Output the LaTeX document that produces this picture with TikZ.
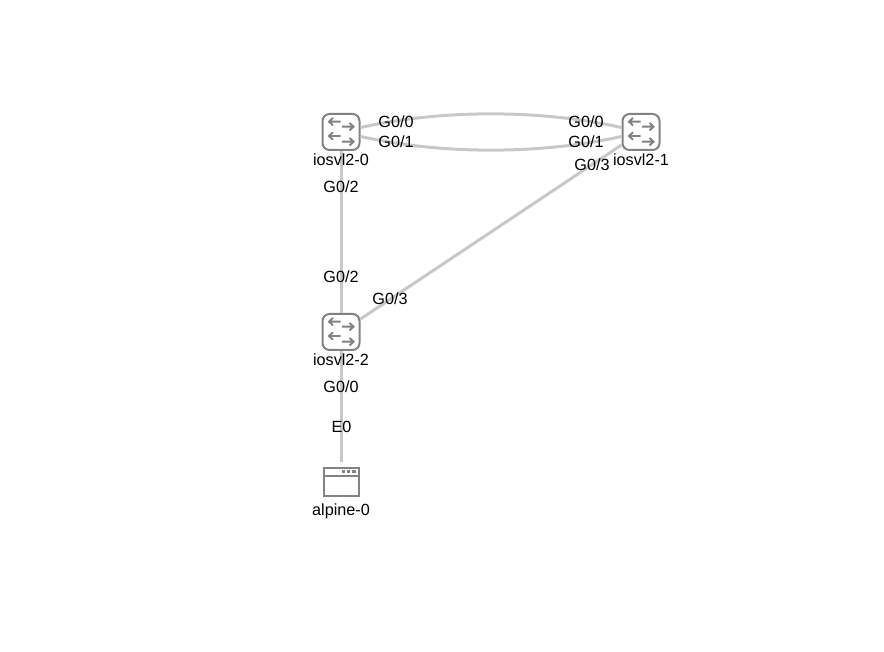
\documentclass[tikz,border=0pt]{standalone}
\usepackage{fontspec}
\setmainfont{Liberation Sans}
\definecolor{linkgray}{HTML}{C8C8C8}
\definecolor{icongray}{HTML}{828282}
\tikzset{
  x=1pt,y=-1pt,
  link/.style={draw=linkgray,line width=3pt},
  swbox/.style={draw=icongray,line width=2pt,fill=white,rounded corners=7pt,minimum width=37pt,minimum height=36pt,inner sep=0pt,outer sep=1pt},
  hostbox/.style={minimum width=35pt,minimum height=28pt,inner sep=0pt,outer sep=0pt},
  hostline/.style={draw=icongray,line width=2pt},
  swarrow/.style={draw=icongray,line width=1.9pt,miter limit=10},
  lbl/.style={font=\fontsize{16.2}{18}\selectfont,text=black,inner sep=0pt}
}
\newcommand{\leftarr}[2]{\draw[swarrow] (#1+11.5,#2) -- (#1,#2) (#1+4,#2-3.8) -- (#1,#2) -- (#1+4,#2+3.8);}
\newcommand{\rightarr}[2]{\draw[swarrow] (#1-11.5,#2) -- (#1,#2) (#1-4,#2-3.8) -- (#1,#2) -- (#1-4,#2+3.8);}
\begin{document}
\begin{tikzpicture}
\useasboundingbox (0,0) rectangle (884,652);
\node[swbox] (a) at (341,132) {};
\node[swbox] (b) at (641,132) {};
\node[swbox] (c) at (341,332) {};
\node[hostbox] (d) at (341,481.7) {};
\coordinate (u1) at (441,109.3);
\coordinate (u2) at (541,109.3);
\coordinate (l1) at (441,154.7);
\coordinate (l2) at (541,154.7);
\draw[link] (a) .. controls (u1) and (u2) .. (b);
\draw[link] (a) .. controls (l1) and (l2) .. (b);
\draw[link] (a) -- (c);
\draw[link] (b) -- (c);
\draw[link,shorten >=5.5pt] (c) -- (d);
\foreach \n in {a,b,c}{
  \begin{scope}[shift={(\n.center)}]
    \leftarr{-12}{-10.3}
    \rightarr{12.5}{-5.3}
    \leftarr{-12}{4}
    \rightarr{12.5}{9.7}
  \end{scope}
}
\draw[hostline] (d.north west) rectangle (d.south east);
\draw[hostline] ([yshift=-8.3pt]d.north west) -- ([yshift=-8.3pt]d.north east);
\fill[icongray] (341.8,470.2) rectangle (345.2,473.4);
\fill[icongray] (347,470.2) rectangle (350.4,473.4);
\fill[icongray] (352.2,470.2) rectangle (355.6,473.4);
\node[lbl] (ta) at (341,159.7) {iosvl2-0};
\node[lbl] (tb) at (641,159.7) {iosvl2-1};
\node[lbl] (tc) at (341,359.7) {iosvl2-2};
\node[lbl] (td) at (341,511) {alpine-0};
\node[lbl] (p1) at (396,121.7) {G0/0};
\node[lbl] (p2) at (396,141.7) {G0/1};
\node[lbl] (p3) at (586,121.7) {G0/0};
\node[lbl] (p4) at (586,141.7) {G0/1};
\node[lbl] (p5) at (592,164.7) {G0/3};
\node[lbl] (p6) at (341,186.7) {G0/2};
\node[lbl] (p7) at (341,276.7) {G0/2};
\node[lbl] (p8) at (390,298.7) {G0/3};
\node[lbl] (p9) at (341,386.7) {G0/0};
\node[lbl] (p10) at (341.5,426.7) {E0};
\end{tikzpicture}
\end{document}
